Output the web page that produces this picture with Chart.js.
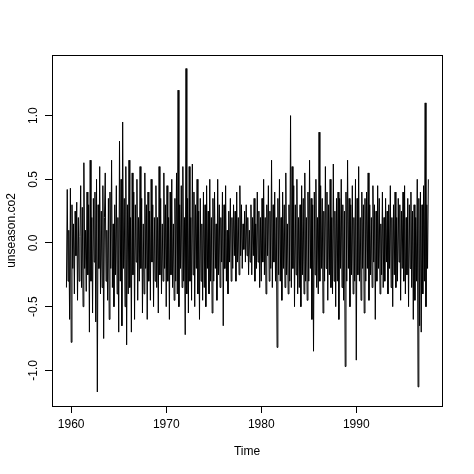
<!DOCTYPE html>
<html><head><meta charset="utf-8">
<script src="https://cdn.jsdelivr.net/npm/chart.js@4/dist/chart.umd.min.js"></script>
<style>html,body{margin:0;padding:0;background:#fff}canvas{display:block}</style>
</head><body><canvas id="c" width="474" height="474"></canvas>
<script>
const startTime = 1959.5;
const frequency = 12;
const xTicks = [1960, 1970, 1980, 1990];
const yTicks = [-1.0, -0.5, 0.0, 0.5, 1.0];
const yTickLabels = ["-1.0", "-0.5", "0.0", "0.5", "1.0"];
const xTitle = "Time";
const yTitle = "unseason.co2";
const values = [
-0.35,0.42,-0.3,0.1,-0.6,0.43,
-0.78,0.3,-0.2,0.15,-0.4,0.25,-0.1,0.32,-0.45,0.2,-0.3,0.05,
0.45,-0.35,0.28,-0.5,0.63,-0.2,0.1,-0.38,0.4,-0.25,0.3,-0.7,
0.65,-0.3,0.2,-0.55,0.35,-0.15,0.4,-0.62,0.5,-1.17,0.3,-0.2,
0.6,-0.4,0.25,-0.35,0.45,-0.75,0.2,0.55,-0.3,0.1,-0.45,0.35,
-0.6,0.4,-0.2,0.65,-0.35,0.15,-0.5,0.3,-0.25,0.45,-0.4,0.2,
-0.7,0.8,-0.3,0.5,-0.65,0.95,-0.2,0.35,-0.5,0.6,-0.8,0.3,
-0.4,0.65,-0.35,0.2,-0.7,0.55,-0.25,0.4,-0.6,0.3,-0.15,0.5,
-0.45,0.2,-0.3,0.6,-0.2,0.35,-0.55,0.15,-0.4,0.55,-0.2,0.3,
-0.6,0.4,-0.3,0.25,-0.45,0.5,-0.15,0.3,-0.5,0.2,-0.3,0.45,
-0.35,0.2,-0.55,0.6,-0.25,0.35,-0.4,0.15,-0.3,0.55,-0.2,0.3,
-0.5,0.45,-0.3,0.2,-0.6,0.4,-0.25,0.5,-0.35,0.15,-0.45,0.35,
-0.3,0.55,-0.4,1.2,-0.5,0.3,-0.2,0.45,-0.35,0.6,-0.3,0.2,
-0.72,1.37,-0.4,0.35,-0.55,0.6,-0.3,0.2,-0.45,0.62,-0.25,0.4,
-0.5,0.3,-0.2,0.5,-0.4,0.25,-0.6,0.35,-0.3,0.15,-0.45,0.4,
-0.35,0.3,-0.5,0.45,-0.2,0.25,-0.4,0.5,-0.3,0.2,-0.55,0.35,
-0.3,0.4,-0.2,0.15,-0.45,0.5,-0.25,0.3,-0.35,0.2,-0.15,0.4,
-0.65,0.3,-0.2,0.45,-0.3,0.1,-0.4,0.25,-0.15,0.35,-0.3,0.2,
-0.2,0.3,-0.1,0.25,-0.3,0.4,-0.15,0.2,-0.25,0.45,-0.1,0.3,
-0.2,0.15,-0.05,0.25,-0.15,0.3,-0.1,0.2,-0.25,0.1,-0.15,0.3,
-0.25,0.2,-0.1,0.35,-0.3,0.15,-0.2,0.4,-0.15,0.25,-0.35,0.2,
-0.3,0.35,-0.15,0.5,-0.25,0.2,-0.4,0.3,-0.1,0.45,-0.3,0.25,
-0.2,0.65,-0.35,0.3,-0.15,0.4,-0.3,0.2,-0.82,0.35,-0.25,0.5,
-0.3,0.2,-0.45,0.4,-0.2,0.3,-0.35,0.55,-0.25,0.15,-0.4,0.3,
-0.3,1.0,-0.35,0.6,-0.2,0.45,-0.5,0.3,-0.25,0.5,-0.4,0.2,
-0.35,0.3,-0.5,0.45,-0.25,0.35,-0.4,0.55,-0.3,0.2,-0.45,0.4,
-0.3,0.65,-0.2,0.35,-0.6,0.3,-0.85,0.4,-0.25,0.5,-0.35,0.2,
-0.4,0.87,-0.3,0.45,-0.2,0.35,-0.55,0.25,-0.3,0.6,-0.2,0.4,
-0.45,0.3,-0.25,0.5,-0.35,0.2,-0.4,0.62,-0.3,0.25,-0.5,0.35,
-0.3,0.4,-0.6,0.35,-0.2,0.5,-0.35,0.3,-0.45,0.25,-0.97,0.4,
-0.3,0.65,-0.2,0.35,-0.5,0.3,-0.25,0.45,-0.4,0.2,-0.3,0.5,
-0.92,0.35,-0.25,0.6,-0.3,0.2,-0.45,0.4,-0.2,0.3,-0.55,0.35,
-0.3,0.4,-0.2,0.55,-0.45,0.3,-0.25,0.2,-0.35,0.45,-0.15,0.3,
-0.6,0.25,-0.3,0.45,-0.2,0.35,-0.4,0.15,-0.25,0.4,-0.35,0.2,
-0.3,0.35,-0.15,0.25,-0.4,0.3,-0.2,0.45,-0.35,0.2,-0.5,0.3,
-0.25,0.4,-0.35,0.2,-0.3,0.35,-0.15,0.3,-0.45,0.25,-0.2,0.4,
-0.3,0.45,-0.4,0.2,-0.25,0.35,-0.5,0.3,-0.2,0.4,-0.35,0.25,
-0.6,0.3,-0.45,0.2,-0.3,0.5,-1.13,0.35,-0.65,0.4,-0.7,0.3,
-0.4,0.45,-0.3,1.1,-0.5,0.3,-0.2,0.5
];
const points = values.map((v, i) => ({x: startTime + i / frequency, y: v}));
const FONT = '"Liberation Sans", Arial, sans-serif';

const decor = {
  id: 'decor',
  afterDraw(chart) {
    const ctx = chart.ctx, a = chart.chartArea, ys = chart.scales.y;
    ctx.save();
    ctx.strokeStyle = '#000'; ctx.lineWidth = 1;
    ctx.strokeRect(Math.round(a.left) + 0.5, Math.round(a.top) + 0.5, Math.round(a.right - a.left), Math.round(a.bottom - a.top));
    ctx.fillStyle = '#000';
    ctx.font = '12px ' + FONT;
    ctx.textAlign = 'center'; ctx.textBaseline = 'bottom';
    yTicks.forEach((t, i) => {
      const py = ys.getPixelForValue(t);
      ctx.save(); ctx.translate(a.left - 12, py); ctx.rotate(-Math.PI / 2);
      ctx.fillText(yTickLabels[i], 0, 0); ctx.restore();
    });
    ctx.save(); ctx.translate(12, (a.top + a.bottom) / 2); ctx.rotate(-Math.PI / 2);
    ctx.textBaseline = 'middle'; ctx.fillText(yTitle, 0, 0); ctx.restore();
    ctx.textBaseline = 'middle';
    ctx.fillText(xTitle, (a.left + a.right) / 2, 452);
    ctx.restore();
  }
};

new Chart(document.getElementById('c'), {
  type: 'line',
  data: { datasets: [{ data: points, borderColor: '#000', borderWidth: 1, pointRadius: 0, tension: 0, fill: false }] },
  options: {
    responsive: false, animation: false, devicePixelRatio: 1,
    layout: { padding: { top: 55, right: 32, left: 0, bottom: 0 } },
    plugins: { legend: { display: false }, tooltip: { enabled: false } },
    scales: {
      x: {
        type: 'linear', min: 1957.98, max: 1999.02,
        afterBuildTicks: s => { s.ticks = xTicks.map(v => ({value: v})); },
        afterFit: s => { s.height = 68; },
        grid: { drawOnChartArea: false, tickLength: 7, color: '#000' },
        border: { display: false },
        ticks: { color: '#000', font: { size: 12, family: FONT }, padding: 4, maxRotation: 0, callback: v => String(v) }
      },
      y: {
        type: 'linear', min: -1.28, max: 1.476,
        afterBuildTicks: s => { s.ticks = yTicks.map(v => ({value: v})); },
        afterFit: s => { s.width = 52; },
        grid: { drawOnChartArea: false, tickLength: 7, color: '#000' },
        border: { display: false },
        ticks: { color: 'rgba(0,0,0,0)', font: { size: 12, family: FONT }, padding: 2 }
      }
    }
  },
  plugins: [decor]
});
</script></body></html>
